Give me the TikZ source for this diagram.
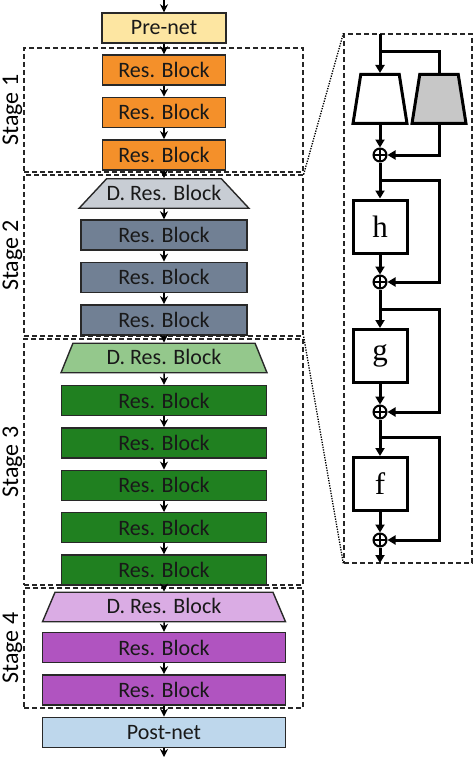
\documentclass[tikz,border=0pt]{standalone}
\usepackage{fontspec}
\setmainfont{Carlito}
\newfontfamily\fnserif{Liberation Serif}
\usetikzlibrary{positioning, arrows.meta, shapes.geometric, calc}

\definecolor{prenetc}{RGB}{253,230,162}
\definecolor{stonec}{RGB}{244,144,42}
\definecolor{dtwoc}{RGB}{200,205,212}
\definecolor{stwoc}{RGB}{113,128,148}
\definecolor{dthreec}{RGB}{148,200,140}
\definecolor{sthreec}{RGB}{32,128,32}
\definecolor{dfourc}{RGB}{218,172,228}
\definecolor{sfourc}{RGB}{176,84,192}
\definecolor{postnetc}{RGB}{190,215,236}
\definecolor{edgec}{RGB}{40,40,40}

\begin{document}
\begin{tikzpicture}[x=1pt, y=-1pt,
  % ---- Style definitions ----
  blk/.style={
    draw=edgec, line width=1.4pt, minimum height=30pt, inner sep=0pt,
    font=\fontsize{22}{24}\selectfont, text=black!90
  },
  pre/.style={blk, fill=prenetc, minimum width=124pt},
  rone/.style={blk, fill=stonec, minimum width=123pt},
  rtwo/.style={blk, fill=stwoc, minimum width=166pt},
  rthree/.style={blk, fill=sthreec, minimum width=205pt},
  rfour/.style={blk, fill=sfourc, minimum width=243pt},
  post/.style={blk, fill=postnetc, minimum width=243pt},
  dblk/.style={
    blk, trapezium, trapezium stretches body=true,
    trapezium left angle=#1, trapezium right angle=#1,
    minimum height=0pt, text height=21.5pt, text depth=8pt
  },
  stagebox/.style={
    draw=black!85, dash pattern=on 5pt off 3pt, line width=1.3pt,
    inner sep=0pt
  },
  stagelbl/.style={
    rotate=90, anchor=base, inner sep=1pt,
    font=\fontsize{24}{26}\selectfont
  },
  arr/.style={-{Stealth[length=8pt, width=8pt]}, line width=1.5pt},
  % ---- detail panel ----
  pline/.style={line width=3pt, black},
  parr/.style={pline, -{Triangle[length=8pt, width=9pt]}},
  tbox/.style={
    draw, line width=3pt, minimum width=54pt, minimum height=53pt,
    inner sep=0pt, font=\fnserif\fontsize{31}{33}\selectfont
  },
  ttrap/.style={
    draw, line width=3pt, trapezium, trapezium stretches body=true,
    trapezium left angle=81, trapezium right angle=81,
    minimum width=54pt, text height=49pt, text depth=0pt, inner sep=0pt
  },
  oplus/.style={
    circle, draw, line width=2pt, minimum size=13pt, inner sep=0pt,
    path picture={\draw[line width=1.6pt]
      (path picture bounding box.north) -- (path picture bounding box.south)
      (path picture bounding box.west) -- (path picture bounding box.east);}
  },
]
\useasboundingbox (0,0) rectangle (474,757);

% ---- Stage frames ----
\node[stagebox, minimum width=279pt, minimum height=124pt] (st1) at (163.5,110) {};
\node[stagebox, minimum width=279pt, minimum height=161pt] (st2) at (163.5,255.5) {};
\node[stagebox, minimum width=279pt, minimum height=246pt] (st3) at (163.5,462) {};
\node[stagebox, minimum width=279pt, minimum height=120pt] (st4) at (163.5,648) {};

\node[stagelbl] (lbl1) at (18,110) {Stage 1};
\node[stagelbl] (lbl2) at (18,255.5) {Stage 2};
\node[stagelbl] (lbl3) at (18,462) {Stage 3};
\node[stagelbl] (lbl4) at (18,648) {Stage 4};

% ---- Main column (top to bottom) ----
\coordinate (cin) at (164,0);
\node[pre] (prenet) at (164,28) {Pre-net};

\node[rone] (r11) at (164,70) {Res. Block};
\node[rone, below=11pt of r11] (r12) {Res. Block};
\node[rone, below=11pt of r12] (r13) {Res. Block};

\node[dblk=47, fill=dtwoc, minimum width=166pt] (d2) at (164,193.5) {D. Res. Block};
\node[rtwo] (r21) at (164,235) {Res. Block};
\node[rtwo, below=11pt of r21] (r22) {Res. Block};
\node[rtwo, below=11pt of r22] (r23) {Res. Block};

\node[dblk=68, fill=dthreec, minimum width=206pt] (d3) at (164,358) {D. Res. Block};
\node[rthree] (r31) at (164,400.5) {Res. Block};
\node[rthree, below=11pt of r31] (r32) {Res. Block};
\node[rthree, below=11pt of r32] (r33) {Res. Block};
\node[rthree, below=11pt of r33] (r34) {Res. Block};
\node[rthree, below=11pt of r34] (r35) {Res. Block};

\node[dblk=67, fill=dfourc, minimum width=243pt] (d4) at (164,607) {D. Res. Block};
\node[rfour] (r41) at (164,647.5) {Res. Block};
\node[rfour, below=11pt of r41] (r42) {Res. Block};

\node[post, below=11pt of r42] (postnet) {Post-net};
\coordinate (cout) at (164,757);

\foreach \a/\b in {cin/prenet, prenet/r11, r11/r12, r12/r13, r13/d2, d2/r21,
    r21/r22, r22/r23, r23/d3, d3/r31, r31/r32, r32/r33, r33/r34, r34/r35,
    r35/d4, d4/r41, r41/r42, r42/postnet}
  \draw[arr] (\a) -- (\b);
\draw[arr] (postnet) -- (cout);

% ---- Detail of a stage ----
\node[stagebox, minimum width=128pt, minimum height=529pt] (panel) at (408,298.5) {};

\draw[line width=1.3pt, dash pattern=on 1.3pt off 1.3pt] (st2.north east) -- (panel.north west);
\draw[line width=1.3pt, dash pattern=on 1.3pt off 1.3pt] (st2.south east) -- (panel.south west);

\coordinate (pin) at (380,34);
\node[ttrap, fill=white] (wtr) at (380,99) {};
\node[ttrap, fill=black!22] (gtr) at (439,99) {};
\node[oplus] (p1) at (380,155) {};
\node[tbox] (hf) at (380,226.5) {h};
\node[oplus] (p2) at (380,282) {};
\node[tbox] (gf) at (380,356) {g};
\node[oplus] (p3) at (380,412) {};
\node[tbox] (ff) at (380,484) {f};
\node[oplus] (p4) at (380,540) {};
\coordinate (pout) at (380,563);

\coordinate (b0) at (380,52);
\coordinate (b1) at (380,180);
\coordinate (b2) at (380,309);
\coordinate (b3) at (380,437);

\draw[parr] (pin) -- (wtr.north);
\draw[pline] (b0) -| (gtr.north);
\draw[parr] (wtr.south) -- (p1.north);
\draw[parr] (gtr.south) |- (p1.east);

\draw[parr] (p1.south) -- (hf.north);
\draw[parr] (b1) -- (b1 -| gtr.south) |- (p2.east);
\draw[parr] (hf.south) -- (p2.north);

\draw[parr] (p2.south) -- (gf.north);
\draw[parr] (b2) -- (b2 -| gtr.south) |- (p3.east);
\draw[parr] (gf.south) -- (p3.north);

\draw[parr] (p3.south) -- (ff.north);
\draw[parr] (b3) -- (b3 -| gtr.south) |- (p4.east);
\draw[parr] (ff.south) -- (p4.north);
\draw[parr] (p4.south) -- (pout);

\end{tikzpicture}
\end{document}
